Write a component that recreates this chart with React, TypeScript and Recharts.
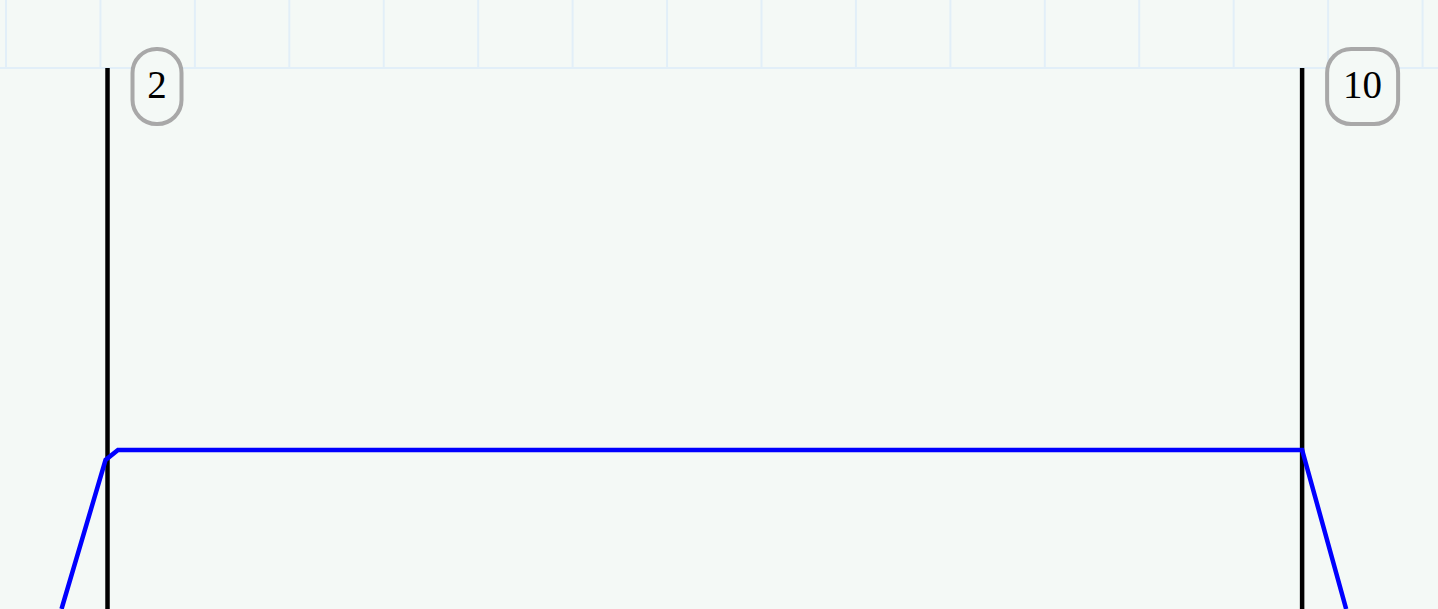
import { LineChart, Line, XAxis, YAxis, ReferenceLine } from 'recharts';

// visible window of the plot (data units)
const xWindow = [1.28, 10.91];
const yWindow = [0, 3.4];

// blue profile: ramp up, plateau, ramp down
const profileX = [1.692, 1.987, 2.07, 10, 10.295];
const profileY = [0, 0.937, 1, 1, 0];

// marked positions
const markers = [2, 10];

const profile = profileX.map((x, i) => ({ x, y: profileY[i] }));

const BG = '#f4f9f6';
const GRID = '#e2eff8';

// rounded box label placed to the right of the top of a marker line
const BoxLabel = (props: any) => {
  const { viewBox, value } = props;
  const text = String(value);
  const w = 27 + 22 * text.length;
  const bx = viewBox.x + 25;
  const by = viewBox.y - 19;
  return (
    <g>
      <rect x={bx} y={by} width={w} height={75} rx={Math.min(24, w / 2)} ry={24}
        fill={BG} stroke="#a8a8a8" strokeWidth={4} />
      <text x={bx + w / 2} y={viewBox.y + 30} textAnchor="middle"
        fontFamily="'Liberation Serif', serif" fontSize={39} fill="#000">
        {text}
      </text>
    </g>
  );
};

export default function App() {
  return (
    <div style={{ position: 'relative', width: 1438, height: 609, background: BG, overflow: 'hidden' }}>
      <style>{'body{margin:0}'}</style>
      <div
        style={{
          position: 'absolute', left: 0, top: 0, width: 1438, height: 67,
          borderBottom: `2px solid ${GRID}`,
          backgroundImage: `linear-gradient(to right, ${GRID} 0, ${GRID} 2px, transparent 2px)`,
          backgroundSize: '94.45px 100%',
          backgroundPosition: '5px 0',
        }}
      />
      <div style={{ position: 'absolute', left: 0, top: 0 }}>
        <LineChart width={1438} height={609} data={profile} margin={{ top: 68, right: 0, bottom: 0, left: 0 }}>
          <XAxis type="number" dataKey="x" domain={xWindow} allowDataOverflow hide />
          <YAxis type="number" domain={yWindow} allowDataOverflow hide />
          {markers.map((m) => (
            <ReferenceLine key={m} x={m} stroke="#000" strokeWidth={4.5}
              label={<BoxLabel value={m} />} />
          ))}
          <Line type="linear" dataKey="y" stroke="#0000ff" strokeWidth={4.5} dot={false}
            activeDot={false} isAnimationActive={false} />
        </LineChart>
      </div>
    </div>
  );
}
